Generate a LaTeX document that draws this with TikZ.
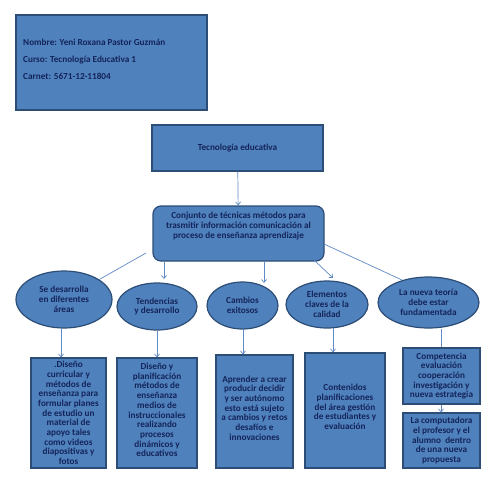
\documentclass[tikz,border=0pt]{standalone}
\usepackage{fontspec}
\setmainfont{Carlito}
\usetikzlibrary{shapes.geometric,arrows.meta}
\definecolor{fillb}{HTML}{4F81BD}
\definecolor{edgec}{HTML}{2C4D75}
\definecolor{txtc}{HTML}{14245A}
\definecolor{conn}{HTML}{5F8AC6}
\begin{document}
\begin{tikzpicture}[x=1pt,y=-1pt,
  box/.style={draw=edgec, line width=1.2pt, fill=fillb, inner sep=0pt},
  ell/.style={box, ellipse},
  t/.style={text=txtc, font=\fontsize{9.2}{9.7}\selectfont\bfseries, align=center},
  arr/.style={draw=conn, line width=0.7pt, -{Straight Barb[length=3pt,width=5pt]}},
  ln/.style={draw=conn, line width=0.7pt}]
\useasboundingbox (0,0) rectangle (495,495);
% header
\node[box, minimum width=191pt, minimum height=95pt] (info) at (111.5,62.5) {};
\node[t, anchor=west, align=left, inner sep=0pt, font=\fontsize{9.2}{17}\selectfont\bfseries] (infot) at (23,59)
  {Nombre: Yeni Roxana Pastor Guzmán\\Curso: Tecnología Educativa 1\\Carnet: 5671-12-11804};
% top
\node[box, t, minimum width=171pt, minimum height=46pt] (tec) at (237.5,148) {Tecnología educativa};
\node[box, rounded corners=8pt, minimum width=171pt, minimum height=55pt] (rr) at (238.5,233.5) {};
\node[t] (rrt) at (238.5,226) {Conjunto de técnicas métodos para\\trasmitir información comunicación al\\proceso de enseñanza aprendizaje};
\draw[arr] (tec) -- (rr);
% ellipses
\node[ell, t, minimum width=96pt, minimum height=57pt] (e1) at (64,299.5) {Se desarrolla\\en diferentes\\áreas};
\node[ell, t, minimum width=80pt, minimum height=47pt] (e2) at (157,306.5) {Tendencias\\y desarrollo};
\node[ell, t, minimum width=71pt, minimum height=47pt] (e3) at (242.5,305.5) {Cambios\\exitosos};
\node[ell, t, minimum width=82pt, minimum height=47pt] (e4) at (327,304.5) {Elementos\\claves de la\\calidad};
\node[ell, t, minimum width=101pt, minimum height=51pt] (e5) at (428.5,302.5) {La nueva teoría\\debe estar\\fundamentada};
% boxes
\node[box, t, minimum width=75pt, minimum height=110pt] (b1) at (68.5,413) {.Diseño\\curricular y\\métodos de\\enseñanza para\\formular planes\\de estudio un\\material de\\apoyo tales\\como videos\\diapositivas y\\fotos};
\node[box, minimum width=80pt, minimum height=110pt] (b2) at (157,413) {};
\node[t] (b2t) at (157,410) {Diseño y\\planificación\\métodos de\\enseñanza\\medios de\\instruccionales\\realizando\\procesos\\dinámicos y\\educativos};
\node[box, minimum width=77pt, minimum height=113pt] (b3) at (254.5,411.5) {};
\node[t] (b3t) at (254.5,408) {Aprender a crear\\producir decidir\\y ser autónomo\\esto está sujeto\\a cambios y retos\\desafíos e\\innovaciones};
\node[box, minimum width=80pt, minimum height=115pt] (b4) at (345,410.5) {};
\node[t] (b4t) at (345,407) {Contenidos\\planificaciones\\del área gestión\\de estudiantes y\\evaluación};
\node[box, t, minimum width=77pt, minimum height=56pt] (b5a) at (441.5,376) {Competencia\\evaluación\\cooperación\\investigación y\\nueva estrategia};
\node[box, t, minimum width=77pt, minimum height=55pt] (b5b) at (441.5,440.5) {La computadora\\el profesor y el\\alumno\ \ dentro\\de una nueva\\propuesta};
% connectors from rr
\coordinate (c1) at (146,253);
\draw[ln] (c1) -- (e1);
\coordinate (x2) at (164,279);
\draw[arr] (rr.south -| x2) -- (x2);
\coordinate (x3) at (264,283);
\draw[arr] (rr.south -| x3) -- (x3);
\coordinate (s4) at (314,260);
\coordinate (x4) at (333,278);
\draw[arr] (s4) -- (x4);
\coordinate (s5) at (324,244);
\coordinate (x5) at (402,280);
\draw[ln] (s5) -- (x5);
% ellipse to boxes
\coordinate (v1) at (61,0);
\coordinate (v2) at (157,0);
\coordinate (v3) at (243,0);
\coordinate (v4) at (333,327.5);
\coordinate (v5) at (441,0);
\draw[arr] (v1 |- e1.south) -- (v1 |- b1.north);
\draw[arr] (v2 |- e2.south) -- (v2 |- b2.north);
\draw[arr] (v3 |- e3.south) -- (v3 |- b3.north);
\draw[arr] (v4) -- (v4 |- b4.north);
\draw[ln] (v5 |- e5.south) -- (v5 |- b5a.north);
\draw[arr] (v5 |- b5a.south) -- (v5 |- b5b.north);
\end{tikzpicture}
\end{document}
